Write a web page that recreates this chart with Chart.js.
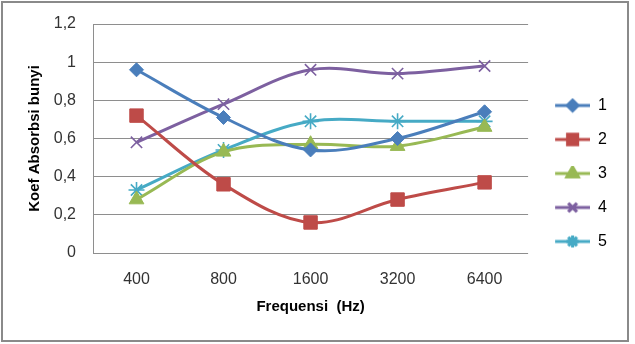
<!DOCTYPE html>
<html>
<head>
<meta charset="utf-8">
<script src="https://cdn.jsdelivr.net/npm/chart.js@4.4.1/dist/chart.umd.min.js"></script>
<style>
  body { margin: 0; background: #fff; }
  #frame { position: absolute; left: 1px; top: 1px; width: 624px; height: 337px; border: 2px solid #8a8a8a; }
  #mygraph { position: absolute; left: 0; top: 0; }
</style>
</head>
<body>
<div id="frame"></div>
<canvas id="mygraph" width="635" height="344"></canvas>
<script>
const frequencies = ['400', '800', '1600', '3200', '6400'];
const seriesNames = ['1', '2', '3', '4', '5'];
const series1 = [0.96, 0.71, 0.54, 0.60, 0.74];
const series2 = [0.72, 0.36, 0.16, 0.28, 0.37];
const series3 = [0.28, 0.53, 0.57, 0.56, 0.66];
const series4 = [0.58, 0.78, 0.96, 0.94, 0.98];
const series5 = [0.33, 0.54, 0.69, 0.69, 0.69];
const yTicks = [0, 0.2, 0.4, 0.6, 0.8, 1, 1.2];

const colors = ['#4a7ebb', '#be4b48', '#98b954', '#7d60a0', '#46aac5'];
const markers = ['rectRot', 'rect', 'triangle', 'crossRot', 'star'];
const radii = [7, 9.5, 8.5, 8, 8];

// little line + marker pictures for the legend
function legendIcon(i) {
    const c = document.createElement('canvas');
    c.width = 44; c.height = 16;
    const g = c.getContext('2d');
    g.strokeStyle = colors[i];
    g.lineWidth = 3;
    g.beginPath(); g.moveTo(9, 8); g.lineTo(44, 8); g.stroke();
    Chart.helpers.drawPoint(g, {pointStyle: markers[i], radius: radii[i] * 0.75, borderWidth: 1.5}, 26.5, 8);
    g.fillStyle = colors[i];
    g.fill();
    g.stroke();
    return c;
}

const allValues = [series1, series2, series3, series4, series5];
const datasets = allValues.map((vals, i) => {
    const open = markers[i] === 'crossRot' || markers[i] === 'star';
    return {
        label: seriesNames[i],
        data: vals,
        borderColor: colors[i],
        backgroundColor: colors[i],
        borderWidth: 3,
        tension: 0.35,
        pointStyle: markers[i],
        pointRadius: radii[i],
        pointBorderWidth: open ? 1.6 : 1,
        pointBackgroundColor: colors[i],
        pointBorderColor: colors[i]
    };
});

const ctx = document.getElementById('mygraph').getContext('2d');
const chart = new Chart(ctx, {
    type: 'line',
    data: {labels: frequencies, datasets: datasets},
    options: {
        responsive: false,
        animation: false,
        layout: {padding: {left: 22, right: 18, top: 24, bottom: 21}},
        plugins: {
            tooltip: {enabled: false},
            legend: {
                position: 'right',
                labels: {
                    usePointStyle: true,
                    pointStyleWidth: 44,
                    padding: 18,
                    color: '#000',
                    font: {family: 'Liberation Sans', size: 16},
                    generateLabels: (ch) => ch.data.datasets.map((d, i) => ({
                        text: d.label,
                        pointStyle: legendIcon(i),
                        fontColor: '#000',
                        lineWidth: 0,
                        datasetIndex: i
                    }))
                }
            }
        },
        scales: {
            x: {
                offset: true,
                afterFit: (s) => { s.height = 70; },
                grid: {display: false, drawTicks: false},
                border: {display: false},
                ticks: {padding: 17, color: '#333', font: {family: 'Liberation Sans', size: 16}},
                title: {display: true, text: 'Frequensi  (Hz)', color: '#000',
                        padding: {top: 0, bottom: 7},
                        font: {family: 'Liberation Sans', size: 15, weight: 'bold'}}
            },
            y: {
                min: 0,
                max: 1.2,
                afterFit: (s) => { s.width = 71; s.paddingTop = 0; s.paddingBottom = 0; },
                afterBuildTicks: (s) => { s.ticks = yTicks.map(v => ({value: v})); },
                grid: {color: '#8e8e8e', drawTicks: false},
                border: {display: true, color: '#8e8e8e'},
                ticks: {
                    padding: 17,
                    color: '#333',
                    font: {family: 'Liberation Sans', size: 16},
                    callback: (v) => String(v).replace('.', ',')
                },
                title: {display: true, text: 'Koef Absorbsi bunyi', color: '#000',
                        font: {family: 'Liberation Sans', size: 15, weight: 'bold'}}
            }
        }
    }
});
</script>
</body>
</html>
